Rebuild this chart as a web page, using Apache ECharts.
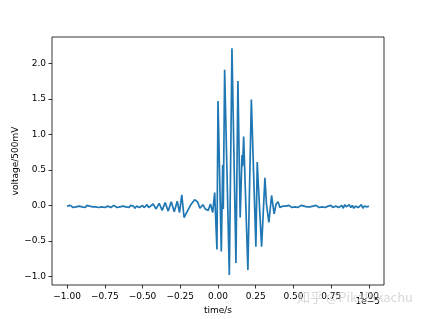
<!DOCTYPE html>
<html>
<head>
<meta charset="utf-8">
<script src="https://cdn.jsdelivr.net/npm/echarts@6/dist/echarts.min.js"></script>
<style>
html,body{margin:0;padding:0;background:#fff;}
#chart{width:426px;height:319px;}
</style>
</head>
<body>
<div id="chart"></div>
<script>
// Baseline noise before the burst: t = -1.00 ... -0.46, sampled every 0.01 (x 1e-5 s)
const baseBeforeStart = -1.00;
const baseStep = 0.01;
const baseBefore = [
  -0.01,-0.02,0.00,-0.02,-0.03,-0.01,-0.02,0.00,-0.01,-0.03,
  -0.02,-0.01,-0.03,0.00,-0.02,-0.01,-0.03,-0.02,0.00,-0.02,
  -0.01,-0.03,-0.01,-0.02,0.00,-0.03,-0.02,-0.01,-0.02,-0.03,
  -0.01,0.00,-0.02,-0.03,-0.01,-0.02,0.00,-0.01,-0.03,-0.02,
  -0.01,-0.03,0.00,-0.02,-0.01,-0.04,-0.01,0.01,-0.03,-0.02,
  0.00,-0.03,-0.01,0.01,-0.03
];
// Oscillating part (pre-ripple + burst)
const waveTimes = [
  -0.45,-0.43,-0.41,-0.39,-0.37,-0.35,-0.33,-0.31,-0.29,-0.27,
  -0.255,-0.24,-0.225,-0.20,-0.18,-0.155,-0.135,-0.12,-0.10,-0.085,
  -0.065,-0.05,-0.035,-0.028,-0.022,-0.015,-0.007,0.000,0.022,0.026,
  0.031,0.035,0.044,0.075,0.0925,0.119,0.132,0.147,0.159,0.163,
  0.170,0.198,0.221,0.251,0.260,0.267,0.289,0.311,0.321,0.337,
  0.355,0.372,0.385,0.398,0.41
];
const waveValues = [
  -0.01,0.02,-0.05,0.03,-0.07,0.04,-0.08,0.05,-0.09,0.06,
  -0.10,0.15,-0.17,-0.07,0.01,0.08,0.05,-0.04,0.01,-0.05,
  -0.07,0.02,-0.10,-0.08,0.18,-0.20,-0.62,1.47,-0.65,-0.13,
  0.57,-0.05,1.91,-0.98,2.21,-0.81,1.75,-0.17,0.71,0.55,
  0.97,-0.91,1.49,-0.58,0.61,0.30,-0.58,0.39,0.02,-0.24,
  0.14,-0.12,0.02,0.05,-0.03
];
// Baseline noise after the burst: t = 0.42 ... 1.00, sampled every 0.01
const baseAfterStart = 0.42;
const baseAfter = [
  -0.02,-0.01,-0.03,-0.01,-0.02,0.00,-0.02,-0.03,-0.01,-0.02,
  -0.01,-0.03,-0.02,0.00,-0.02,-0.01,-0.03,-0.02,-0.01,-0.02,
  -0.03,-0.01,-0.02,0.00,-0.02,-0.03,-0.01,-0.02,-0.01,-0.03,
  -0.02,-0.01,-0.02,0.00,-0.03,-0.02,-0.01,0.01,-0.03,-0.02,
  0.00,-0.04,0.01,-0.02,-0.04,0.01,-0.03,0.00,-0.04,-0.01,
  0.01,-0.03,-0.02,0.01,-0.04,-0.01,0.00,-0.02,-0.01
];
const xTicks = [-1.00,-0.75,-0.50,-0.25,0.00,0.25,0.50,0.75,1.00];
const yTicks = [-1.0,-0.5,0.0,0.5,1.0,1.5,2.0];

const points = [];
baseBefore.forEach((v,i)=>points.push([+(baseBeforeStart + i*baseStep).toFixed(3), v]));
waveTimes.forEach((t,i)=>points.push([t, waveValues[i]]));
baseAfter.forEach((v,i)=>points.push([+(baseAfterStart + i*baseStep).toFixed(3), v]));

const FONT = 'DejaVu Sans';
const fmt = d => v => v.toFixed(d).replace('-', '\u2212');

const chart = echarts.init(document.getElementById('chart'), null, {renderer:'canvas'});
chart.setOption({
  animation:false,
  backgroundColor:'#fff',
  grid:{left:52,top:37,width:332,height:248,containLabel:false,outerBoundsMode:'none',
        show:true,borderColor:'#000',borderWidth:0.8,backgroundColor:'transparent'},
  xAxis:{
    type:'value',min:-1.1,max:1.1,position:'bottom',
    axisLine:{show:false,onZero:false},
    axisTick:{show:true,inside:false,customValues:xTicks,length:3.5,lineStyle:{color:'#000',width:0.8}},
    axisLabel:{customValues:xTicks,formatter:fmt(2),fontFamily:FONT,fontSize:9,color:'#000',margin:7},
    splitLine:{show:false},
    name:'time/s',nameLocation:'middle',nameGap:18,
    nameTextStyle:{fontFamily:FONT,fontSize:9,color:'#000'}
  },
  yAxis:{
    type:'value',min:-1.12,max:2.37,position:'left',
    axisLine:{show:false,onZero:false},
    axisTick:{show:true,inside:false,customValues:yTicks,length:3.5,lineStyle:{color:'#000',width:0.8}},
    axisLabel:{customValues:yTicks,formatter:fmt(1),fontFamily:FONT,fontSize:9,color:'#000',margin:6},
    splitLine:{show:false}
  },
  graphic:[
    {type:'text',x:16,y:161,rotation:Math.PI/2,
     style:{text:'voltage/500mV',font:'9px "DejaVu Sans"',fill:'#000',align:'center',verticalAlign:'middle'}},
    {type:'text',right:46,top:297,style:{text:'1e\u22125',font:'9px "DejaVu Sans"',fill:'#000'}},
    {type:'text',left:297,top:291,z:100,style:{text:'知乎 @PikaPikachu',font:'13px "Noto Sans CJK SC"',fill:'rgba(200,200,200,0.7)'}}
  ],
  series:[{
    type:'line',data:points,showSymbol:false,
    lineStyle:{color:'#1f77b4',width:1.7},
    itemStyle:{color:'#1f77b4'}
  }]
});
</script>
</body>
</html>
